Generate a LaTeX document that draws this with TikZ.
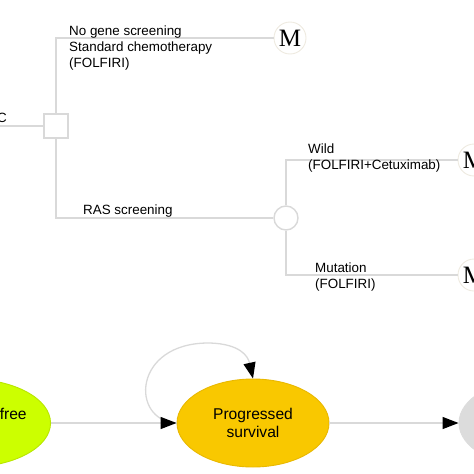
\documentclass[tikz,border=0pt]{standalone}
\usepackage{fontspec}
\setmainfont{Liberation Sans}
\newfontfamily\payofffont{Liberation Serif}
\usetikzlibrary{arrows.meta,shapes.geometric}
\definecolor{TreeClr}{HTML}{D9D9D9}
\definecolor{PayClr}{HTML}{EEEAE0}
\definecolor{FreeClr}{HTML}{CCFF00}
\definecolor{FreeEdge}{HTML}{B8E600}
\definecolor{ProgClr}{HTML}{F9C800}
\definecolor{ProgEdge}{HTML}{E9B800}
\definecolor{DeadClr}{HTML}{DCDCDC}
\begin{document}
\begin{tikzpicture}[x=1pt,y=-1pt,
  branch/.style={draw=TreeClr,line width=1.4pt},
  decision/.style={rectangle,draw=TreeClr,line width=1.4pt,fill=white,minimum size=24pt,inner sep=0pt},
  chance/.style={circle,draw=TreeClr,line width=1.4pt,fill=white,minimum size=24pt,inner sep=0pt},
  payoff/.style={circle,draw=PayClr,line width=0.9pt,fill=white,minimum size=32pt,inner sep=0pt,font=\payofffont\fontsize{25}{25}\selectfont},
  lbl/.style={inner sep=0pt,align=left,font=\fontsize{13.4}{16}\selectfont},
  state/.style={ellipse,line width=0.9pt,minimum width=152pt,minimum height=88pt,inner sep=0pt,align=center,font=\fontsize{15.6}{18}\selectfont},
  trans/.style={draw=TreeClr,line width=1.3pt,-{Triangle[length=16pt,width=12pt,color=black]}}]
\useasboundingbox (0,0) rectangle (474,474);
\clip (0,0) rectangle (474,474);

% decision tree
\coordinate (root) at (0,126);
\node[decision] (dec) at (56,126) {};
\node[chance] (ras) at (286,218) {};
\node[payoff] (m1) at (290,38) {M};
\node[payoff] (m2) at (474,160) {M};
\node[payoff] (m3) at (474,275) {M};

\draw[branch] (root) -- (dec.west);
\draw[branch] (dec.north) |- (m1.west);
\draw[branch] (dec.south) |- (ras.west);
\draw[branch] (ras.north) |- (m2.west);
\draw[branch] (ras.south) |- (m3.west);

\node[lbl,anchor=base east] (cohort) at (7,122) {mCRC};
\node[lbl,anchor=north west] (nogene) at (69,26) {No gene screening\\Standard chemotherapy\\(FOLFIRI)};
\node[lbl,anchor=base west] (screen) at (83,214) {RAS screening};
\node[lbl,anchor=north west] (wild) at (308,144) {Wild\\(FOLFIRI+Cetuximab)};
\node[lbl,anchor=north west] (mut) at (315,263) {Mutation\\(FOLFIRI)};

% Markov states
\node[state,fill=FreeClr,draw=FreeEdge] (free) at (-31,423) {Progression-free\\survival};
\node[state,fill=ProgClr,draw=ProgEdge] (prog) at (253,423) {Progressed\\survival};
\node[state,fill=DeadClr,draw=DeadClr] (dead) at (535,423) {};

\draw[trans] (prog.west) .. controls (130,421) and (132,342) .. (210,343)
  .. controls (240,344) and (248,356) .. (prog.north);
\draw[trans] (free) -- (prog);
\draw[trans] (prog) -- (dead);
\end{tikzpicture}
\end{document}
